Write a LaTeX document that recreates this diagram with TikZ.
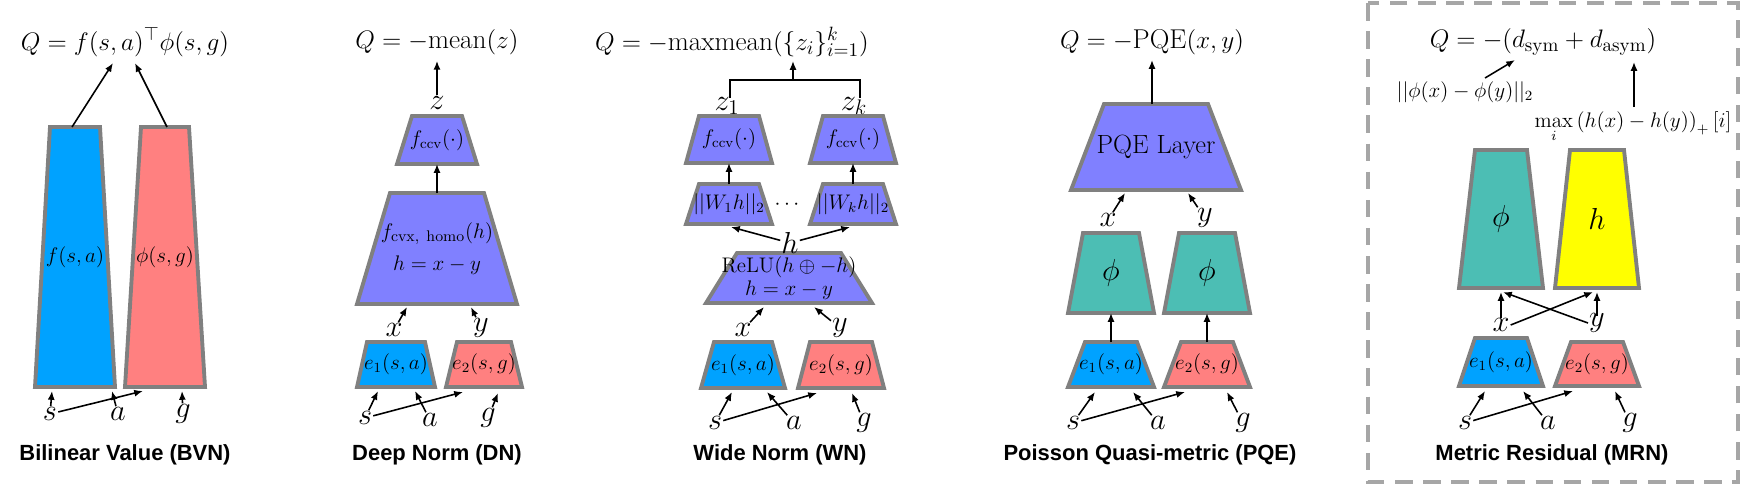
\documentclass[tikz,border=0pt]{standalone}
\usepackage{fontspec}
\newfontfamily\titlefont{Liberation Sans}
\usetikzlibrary{arrows.meta,calc}
\definecolor{encblue}{RGB}{0,162,255}
\definecolor{encred}{RGB}{255,128,128}
\definecolor{netpurple}{RGB}{128,128,255}
\definecolor{netteal}{RGB}{76,190,180}
\definecolor{netyellow}{RGB}{255,255,0}
\tikzset{
  trap/.style={draw=gray, line width=2.2pt, line join=miter},
  arr/.style={-{Latex[length=5pt,width=4pt]}, line width=0.9pt},
  var/.style={font=\fontsize{17}{20}\selectfont, inner sep=0.5pt},
  qlab/.style={font=\fontsize{15.5}{18}\selectfont},
  side/.style={font=\fontsize{12}{14}\selectfont},
  title/.style={font=\titlefont\bfseries\fontsize{12.5}{14}\selectfont},
}
% trapezoid: name, cx, ytop, ybot, half top, half bottom, colour, label
\newcommand{\trap}[8]{
  \draw[trap, fill=#7] ({#2-#5},#3) -- ({#2+#5},#3) -- ({#2+#6},#4) -- ({#2-#6},#4) -- cycle;
  \node[align=center, inner sep=0pt, font=\fontsize{12}{13}\selectfont] (#1) at (#2,{(#3+#4)/2}) {#8};
  \coordinate (#1t) at (#2,#3);
  \coordinate (#1b) at (#2,#4);
}
\begin{document}
\begin{tikzpicture}[x=0.02cm, y=-0.02cm]
  \useasboundingbox (0,0) rectangle (1747,485);

  % BVN
  \trap{fsa}{75}{127}{387}{25}{40}{encblue}{\fontsize{13}{15}\selectfont$f(s,a)$}
  \trap{phisg}{165}{127}{387}{24}{40}{encred}{\fontsize{13}{15}\selectfont$\phi(s,g)$}
  \node[qlab] (qbvn) at (125,42) {$Q = f(s,a)^\top \phi(s,g)$};
  \coordinate (qbvnl) at (113,63);
  \coordinate (qbvnr) at (135,63);
  \draw[arr] ($(fsat)+(-3,0)$) -- (qbvnl);
  \draw[arr] ($(phisgt)+(2,0)$) -- (qbvnr);
  \node[var] (s1) at (50,414) {$s$};
  \node[var] (a1) at (118,414) {$a$};
  \node[var] (g1) at (183,414) {$g$};
  \draw[arr] (s1) -- ($(fsab)+(-23,4)$);
  \draw[arr] (a1) -- ($(fsab)+(37,4)$);
  \draw[arr] (s1) -- ($(phisgb)+(-22,4)$);
  \draw[arr] (g1) -- ($(phisgb)+(17,4)$);
  \node[title] (tbvn) at (125,455) {Bilinear Value (BVN)};

  % DN
  \trap{dne1}{396}{342}{387}{29}{39}{encblue}{$e_1(s,a)$}
  \trap{dne2}{484}{342}{387}{27}{38}{encred}{$e_2(s,g)$}
  \trap{dncvx}{437}{193}{304}{47}{80}{netpurple}{\fontsize{12.5}{15}\selectfont$f_{\mathrm{cvx,\ homo}}(h)$\\[5pt]\fontsize{12.5}{15}\selectfont$h=x-y$}
  \trap{dnccv}{437}{116}{164}{25}{40}{netpurple}{$f_{\mathrm{ccv}}(\cdot)$}
  \node[var] (dnz) at (437,103) {$z$};
  \node[qlab] (qdn) at (437,42) {$Q = -\mathrm{mean}(z)$};
  \draw[arr] (dnz) -- (qdn);
  \draw[arr] (dncvxt) -- (dnccvb);
  \node[var] (dnx) at (394,330) {$x$};
  \node[var] (dny) at (481,328) {$y$};
  \draw[arr] (dnx) -- ($(dncvxb)+(-30,3)$);
  \draw[arr] (dny) -- ($(dncvxb)+(34,3)$);
  \node[var] (s2) at (365,418) {$s$};
  \node[var] (a2) at (430,420) {$a$};
  \node[var] (g2) at (488,418) {$g$};
  \draw[arr] (s2) -- ($(dne1b)+(-18,4)$);
  \draw[arr] (a2) -- ($(dne1b)+(19,4)$);
  \draw[arr] (s2) -- ($(dne2b)+(-21,5)$);
  \draw[arr] (g2) -- ($(dne2b)+(14,6)$);
  \node[title] (tdn) at (437,455) {Deep Norm (DN)};

  % WN
  \trap{wne1}{743}{342}{388}{29}{42}{encblue}{$e_1(s,a)$}
  \trap{wne2}{841}{342}{388}{31}{43}{encred}{$e_2(s,g)$}
  \trap{wnrelu}{789}{253}{303}{52}{83}{netpurple}{$\mathrm{ReLU}(h\oplus -h)$\\$h=x-y$}
  \trap{wnn1}{729}{184}{224}{30}{43}{netpurple}{$||W_1h||_2$}
  \trap{wnnk}{853}{184}{224}{30}{43}{netpurple}{$||W_kh||_2$}
  \trap{wnc1}{729}{116}{163}{30}{43}{netpurple}{$f_{\mathrm{ccv}}(\cdot)$}
  \trap{wnck}{853}{116}{163}{30}{43}{netpurple}{$f_{\mathrm{ccv}}(\cdot)$}
  \node[side] (wndots) at (787,205) {$\cdots$};
  \node[var] (wnh) at (790,243) {$h$};
  \draw[arr] (wnh) -- ($(wnn1b)+(2,3)$);
  \draw[arr] (wnh) -- ($(wnnkb)+(-3,3)$);
  \draw[arr] (wnn1t) -- (wnc1b);
  \draw[arr] (wnnkt) -- (wnckb);
  \node[var] (wnz1) at (727,106) {$z_1$};
  \node[var] (wnzk) at (854,106) {$z_k$};
  \node[qlab] (qwn) at (732,42) {$Q = -\mathrm{maxmean}(\{z_i\}_{i=1}^{k})$};
  \coordinate (wnbr) at (793,80);
  \draw[line width=0.9pt] (730,98) |- (wnbr) -| (860,98);
  \draw[arr] (wnbr) -- (793,61);
  \node[var] (wnx) at (743,330) {$x$};
  \node[var] (wny) at (840,328) {$y$};
  \draw[arr] (wnx) -- ($(wnrelub)+(-25,4)$);
  \draw[arr] (wny) -- ($(wnrelub)+(25,4)$);
  \node[var] (s3) at (715,423) {$s$};
  \node[var] (a3) at (794,423) {$a$};
  \node[var] (g3) at (864,423) {$g$};
  \draw[arr] (s3) -- ($(wne1b)+(-11,4)$);
  \draw[arr] (a3) -- ($(wne1b)+(24,4)$);
  \draw[arr] (s3) -- ($(wne2b)+(-24,5)$);
  \draw[arr] (g3) -- ($(wne2b)+(11,5)$);
  \node[title] (twn) at (780,455) {Wide Norm (WN)};

  % PQE
  \trap{pqe1}{1111}{342}{387}{26}{43}{encblue}{$e_1(s,a)$}
  \trap{pqe2}{1207}{342}{387}{26}{43}{encred}{$e_2(s,g)$}
  \trap{pqphi1}{1111}{233}{313}{28}{43}{netteal}{\LARGE$\phi$}
  \trap{pqphi2}{1207}{233}{313}{28}{43}{netteal}{\LARGE$\phi$}
  \trap{pqlayer}{1156}{104}{190}{52}{85}{netpurple}{\fontsize{15}{17}\selectfont PQE Layer}
  \node[qlab] (qpq) at (1152,42) {$Q = -\mathrm{PQE}(x,y)$};
  \draw[arr] ($(pqlayert)+(-4,0)$) -- (1152,60);
  \draw[arr] (pqe1t) -- (pqphi1b);
  \draw[arr] (pqe2t) -- (pqphi2b);
  \node[var] (pqx) at (1108,220) {$x$};
  \node[var] (pqy) at (1205,218) {$y$};
  \draw[arr] (pqx) -- ($(pqlayerb)+(-31,3)$);
  \draw[arr] (pqy) -- ($(pqlayerb)+(32,3)$);
  \node[var] (s4) at (1073,423) {$s$};
  \node[var] (a4) at (1158,423) {$a$};
  \node[var] (g4) at (1243,423) {$g$};
  \draw[arr] (s4) -- ($(pqe1b)+(-16,5)$);
  \draw[arr] (a4) -- ($(pqe1b)+(22,5)$);
  \draw[arr] (s4) -- ($(pqe2b)+(-22,5)$);
  \draw[arr] (g4) -- ($(pqe2b)+(20,5)$);
  \node[title] (tpq) at (1150,455) {Poisson Quasi-metric (PQE)};

  % MRN
  \draw[gray!70, line width=2.2pt, dash pattern=on 10pt off 6pt] (1368,3) rectangle (1738,482);
  \trap{mre1}{1501}{338}{386}{26}{42}{encblue}{$e_1(s,a)$}
  \trap{mre2}{1597}{342}{386}{26}{42}{encred}{$e_2(s,g)$}
  \trap{mrphi}{1501}{150}{288}{26}{42}{netteal}{\LARGE$\phi$}
  \trap{mrh}{1597}{150}{288}{27}{42}{netyellow}{\LARGE$h$}
  \node[qlab] (qmr) at (1543,42) {$Q = -(d_{\mathrm{sym}} + d_{\mathrm{asym}})$};
  \node[side] (mrsym) at (1465,92) {$||\phi(x)-\phi(y)||_2$};
  \node[side] (mrasym) at (1633,127) {$\max\limits_i\left(h(x)-h(y)\right)_+[i]$};
  \draw[arr] (1485,78) -- (1515,60);
  \draw[arr] (1634,107) -- (1634,62);
  \node[var] (mrx) at (1501,325) {$x$};
  \node[var] (mry) at (1597,323) {$y$};
  \draw[arr] (1501,318) -- ($(mrphib)+(0,4)$);
  \draw[arr] (mrx.east) -- ($(mrhb)+(-4,4)$);
  \draw[arr] (mry.west) -- ($(mrphib)+(2,4)$);
  \draw[arr] (1597,316) -- ($(mrhb)+(0,4)$);
  \node[var] (s5) at (1465,423) {$s$};
  \node[var] (a5) at (1548,423) {$a$};
  \node[var] (g5) at (1630,423) {$g$};
  \draw[arr] (s5) -- ($(mre1b)+(-16,5)$);
  \draw[arr] (a5) -- ($(mre1b)+(22,5)$);
  \draw[arr] (s5) -- ($(mre2b)+(-24,5)$);
  \draw[arr] (g5) -- ($(mre2b)+(18,5)$);
  \node[title] (tmr) at (1552,455) {Metric Residual (MRN)};
\end{tikzpicture}
\end{document}
